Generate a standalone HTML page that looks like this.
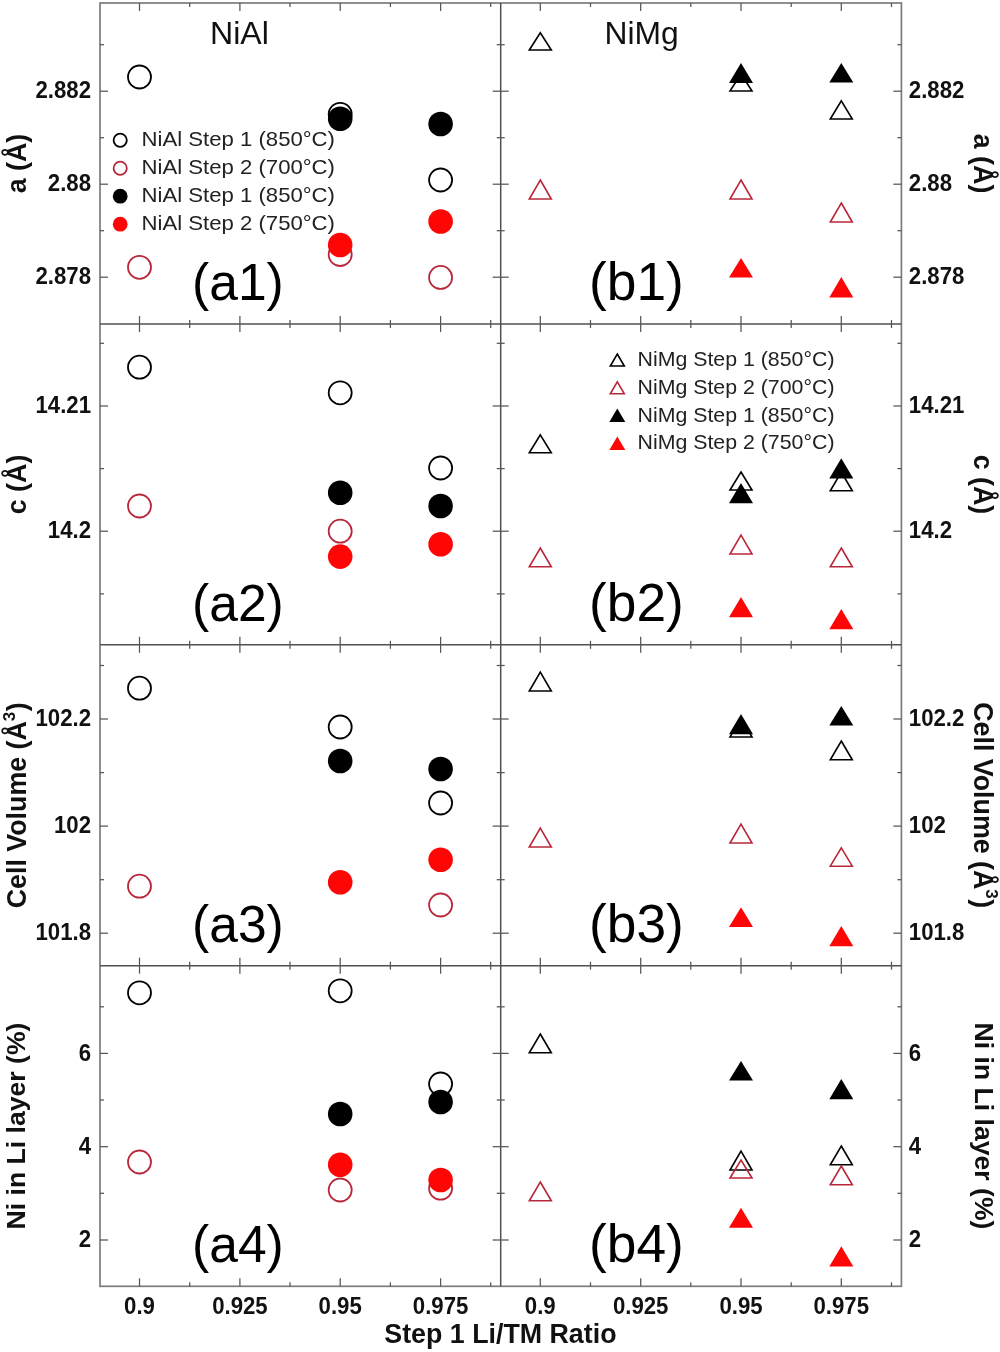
<!DOCTYPE html>
<html lang="en"><head><meta charset="utf-8"><title>Figure</title>
<style>
html,body{margin:0;padding:0;background:#fff;}
body{width:1000px;height:1352px;overflow:hidden;}
svg{display:block;filter:blur(0.45px);}
</style></head><body>
<svg width="1000" height="1352" viewBox="0 0 1000 1352">
<rect width="1000" height="1352" fill="#fff"/>
<rect x="100" y="3" width="801.4" height="1283.3" fill="none" stroke="#7c7c7c" stroke-width="1.7"/>
<g stroke="#505050" stroke-width="1.5" fill="none">
<line x1="500.7" y1="3" x2="500.7" y2="1286.3"/>
<line x1="100" y1="324.1" x2="901.4" y2="324.1"/>
<line x1="100" y1="644.8" x2="901.4" y2="644.8"/>
<line x1="100" y1="965.7" x2="901.4" y2="965.7"/>
</g>
<g stroke="#555" stroke-width="1.25">
<line x1="139.5" y1="3" x2="139.5" y2="11"/>
<line x1="239.9" y1="3" x2="239.9" y2="11"/>
<line x1="340.2" y1="3" x2="340.2" y2="11"/>
<line x1="440.6" y1="3" x2="440.6" y2="11"/>
<line x1="540.3" y1="3" x2="540.3" y2="11"/>
<line x1="640.7" y1="3" x2="640.7" y2="11"/>
<line x1="741" y1="3" x2="741" y2="11"/>
<line x1="841.3" y1="3" x2="841.3" y2="11"/>
<line x1="189.7" y1="3" x2="189.7" y2="7"/>
<line x1="290" y1="3" x2="290" y2="7"/>
<line x1="390.4" y1="3" x2="390.4" y2="7"/>
<line x1="490.7" y1="3" x2="490.7" y2="7"/>
<line x1="590.5" y1="3" x2="590.5" y2="7"/>
<line x1="690.8" y1="3" x2="690.8" y2="7"/>
<line x1="791.2" y1="3" x2="791.2" y2="7"/>
<line x1="891.5" y1="3" x2="891.5" y2="7"/>
<line x1="139.5" y1="316.1" x2="139.5" y2="332.1"/>
<line x1="239.9" y1="316.1" x2="239.9" y2="332.1"/>
<line x1="340.2" y1="316.1" x2="340.2" y2="332.1"/>
<line x1="440.6" y1="316.1" x2="440.6" y2="332.1"/>
<line x1="540.3" y1="316.1" x2="540.3" y2="332.1"/>
<line x1="640.7" y1="316.1" x2="640.7" y2="332.1"/>
<line x1="741" y1="316.1" x2="741" y2="332.1"/>
<line x1="841.3" y1="316.1" x2="841.3" y2="332.1"/>
<line x1="189.7" y1="320.1" x2="189.7" y2="328.1"/>
<line x1="290" y1="320.1" x2="290" y2="328.1"/>
<line x1="390.4" y1="320.1" x2="390.4" y2="328.1"/>
<line x1="490.7" y1="320.1" x2="490.7" y2="328.1"/>
<line x1="590.5" y1="320.1" x2="590.5" y2="328.1"/>
<line x1="690.8" y1="320.1" x2="690.8" y2="328.1"/>
<line x1="791.2" y1="320.1" x2="791.2" y2="328.1"/>
<line x1="891.5" y1="320.1" x2="891.5" y2="328.1"/>
<line x1="139.5" y1="636.8" x2="139.5" y2="652.8"/>
<line x1="239.9" y1="636.8" x2="239.9" y2="652.8"/>
<line x1="340.2" y1="636.8" x2="340.2" y2="652.8"/>
<line x1="440.6" y1="636.8" x2="440.6" y2="652.8"/>
<line x1="540.3" y1="636.8" x2="540.3" y2="652.8"/>
<line x1="640.7" y1="636.8" x2="640.7" y2="652.8"/>
<line x1="741" y1="636.8" x2="741" y2="652.8"/>
<line x1="841.3" y1="636.8" x2="841.3" y2="652.8"/>
<line x1="189.7" y1="640.8" x2="189.7" y2="648.8"/>
<line x1="290" y1="640.8" x2="290" y2="648.8"/>
<line x1="390.4" y1="640.8" x2="390.4" y2="648.8"/>
<line x1="490.7" y1="640.8" x2="490.7" y2="648.8"/>
<line x1="590.5" y1="640.8" x2="590.5" y2="648.8"/>
<line x1="690.8" y1="640.8" x2="690.8" y2="648.8"/>
<line x1="791.2" y1="640.8" x2="791.2" y2="648.8"/>
<line x1="891.5" y1="640.8" x2="891.5" y2="648.8"/>
<line x1="139.5" y1="957.7" x2="139.5" y2="973.7"/>
<line x1="239.9" y1="957.7" x2="239.9" y2="973.7"/>
<line x1="340.2" y1="957.7" x2="340.2" y2="973.7"/>
<line x1="440.6" y1="957.7" x2="440.6" y2="973.7"/>
<line x1="540.3" y1="957.7" x2="540.3" y2="973.7"/>
<line x1="640.7" y1="957.7" x2="640.7" y2="973.7"/>
<line x1="741" y1="957.7" x2="741" y2="973.7"/>
<line x1="841.3" y1="957.7" x2="841.3" y2="973.7"/>
<line x1="189.7" y1="961.7" x2="189.7" y2="969.7"/>
<line x1="290" y1="961.7" x2="290" y2="969.7"/>
<line x1="390.4" y1="961.7" x2="390.4" y2="969.7"/>
<line x1="490.7" y1="961.7" x2="490.7" y2="969.7"/>
<line x1="590.5" y1="961.7" x2="590.5" y2="969.7"/>
<line x1="690.8" y1="961.7" x2="690.8" y2="969.7"/>
<line x1="791.2" y1="961.7" x2="791.2" y2="969.7"/>
<line x1="891.5" y1="961.7" x2="891.5" y2="969.7"/>
<line x1="139.5" y1="1278.3" x2="139.5" y2="1286.3"/>
<line x1="239.9" y1="1278.3" x2="239.9" y2="1286.3"/>
<line x1="340.2" y1="1278.3" x2="340.2" y2="1286.3"/>
<line x1="440.6" y1="1278.3" x2="440.6" y2="1286.3"/>
<line x1="540.3" y1="1278.3" x2="540.3" y2="1286.3"/>
<line x1="640.7" y1="1278.3" x2="640.7" y2="1286.3"/>
<line x1="741" y1="1278.3" x2="741" y2="1286.3"/>
<line x1="841.3" y1="1278.3" x2="841.3" y2="1286.3"/>
<line x1="189.7" y1="1282.3" x2="189.7" y2="1286.3"/>
<line x1="290" y1="1282.3" x2="290" y2="1286.3"/>
<line x1="390.4" y1="1282.3" x2="390.4" y2="1286.3"/>
<line x1="490.7" y1="1282.3" x2="490.7" y2="1286.3"/>
<line x1="590.5" y1="1282.3" x2="590.5" y2="1286.3"/>
<line x1="690.8" y1="1282.3" x2="690.8" y2="1286.3"/>
<line x1="791.2" y1="1282.3" x2="791.2" y2="1286.3"/>
<line x1="891.5" y1="1282.3" x2="891.5" y2="1286.3"/>
<line x1="100" y1="91.2" x2="108" y2="91.2"/>
<line x1="492.7" y1="91.2" x2="508.7" y2="91.2"/>
<line x1="893.4" y1="91.2" x2="901.4" y2="91.2"/>
<line x1="100" y1="184.2" x2="108" y2="184.2"/>
<line x1="492.7" y1="184.2" x2="508.7" y2="184.2"/>
<line x1="893.4" y1="184.2" x2="901.4" y2="184.2"/>
<line x1="100" y1="277.2" x2="108" y2="277.2"/>
<line x1="492.7" y1="277.2" x2="508.7" y2="277.2"/>
<line x1="893.4" y1="277.2" x2="901.4" y2="277.2"/>
<line x1="100" y1="44.7" x2="104" y2="44.7"/>
<line x1="496.7" y1="44.7" x2="504.7" y2="44.7"/>
<line x1="897.4" y1="44.7" x2="901.4" y2="44.7"/>
<line x1="100" y1="137.7" x2="104" y2="137.7"/>
<line x1="496.7" y1="137.7" x2="504.7" y2="137.7"/>
<line x1="897.4" y1="137.7" x2="901.4" y2="137.7"/>
<line x1="100" y1="230.7" x2="104" y2="230.7"/>
<line x1="496.7" y1="230.7" x2="504.7" y2="230.7"/>
<line x1="897.4" y1="230.7" x2="901.4" y2="230.7"/>
<line x1="100" y1="406" x2="108" y2="406"/>
<line x1="492.7" y1="406" x2="508.7" y2="406"/>
<line x1="893.4" y1="406" x2="901.4" y2="406"/>
<line x1="100" y1="531.2" x2="108" y2="531.2"/>
<line x1="492.7" y1="531.2" x2="508.7" y2="531.2"/>
<line x1="893.4" y1="531.2" x2="901.4" y2="531.2"/>
<line x1="100" y1="343.3" x2="104" y2="343.3"/>
<line x1="496.7" y1="343.3" x2="504.7" y2="343.3"/>
<line x1="897.4" y1="343.3" x2="901.4" y2="343.3"/>
<line x1="100" y1="468.6" x2="104" y2="468.6"/>
<line x1="496.7" y1="468.6" x2="504.7" y2="468.6"/>
<line x1="897.4" y1="468.6" x2="901.4" y2="468.6"/>
<line x1="100" y1="593.9" x2="104" y2="593.9"/>
<line x1="496.7" y1="593.9" x2="504.7" y2="593.9"/>
<line x1="897.4" y1="593.9" x2="901.4" y2="593.9"/>
<line x1="100" y1="719" x2="108" y2="719"/>
<line x1="492.7" y1="719" x2="508.7" y2="719"/>
<line x1="893.4" y1="719" x2="901.4" y2="719"/>
<line x1="100" y1="826.1" x2="108" y2="826.1"/>
<line x1="492.7" y1="826.1" x2="508.7" y2="826.1"/>
<line x1="893.4" y1="826.1" x2="901.4" y2="826.1"/>
<line x1="100" y1="933.2" x2="108" y2="933.2"/>
<line x1="492.7" y1="933.2" x2="508.7" y2="933.2"/>
<line x1="893.4" y1="933.2" x2="901.4" y2="933.2"/>
<line x1="100" y1="665.5" x2="104" y2="665.5"/>
<line x1="496.7" y1="665.5" x2="504.7" y2="665.5"/>
<line x1="897.4" y1="665.5" x2="901.4" y2="665.5"/>
<line x1="100" y1="772.6" x2="104" y2="772.6"/>
<line x1="496.7" y1="772.6" x2="504.7" y2="772.6"/>
<line x1="897.4" y1="772.6" x2="901.4" y2="772.6"/>
<line x1="100" y1="879.7" x2="104" y2="879.7"/>
<line x1="496.7" y1="879.7" x2="504.7" y2="879.7"/>
<line x1="897.4" y1="879.7" x2="901.4" y2="879.7"/>
<line x1="100" y1="1053.4" x2="108" y2="1053.4"/>
<line x1="492.7" y1="1053.4" x2="508.7" y2="1053.4"/>
<line x1="893.4" y1="1053.4" x2="901.4" y2="1053.4"/>
<line x1="100" y1="1146.7" x2="108" y2="1146.7"/>
<line x1="492.7" y1="1146.7" x2="508.7" y2="1146.7"/>
<line x1="893.4" y1="1146.7" x2="901.4" y2="1146.7"/>
<line x1="100" y1="1240" x2="108" y2="1240"/>
<line x1="492.7" y1="1240" x2="508.7" y2="1240"/>
<line x1="893.4" y1="1240" x2="901.4" y2="1240"/>
<line x1="100" y1="1006.8" x2="104" y2="1006.8"/>
<line x1="496.7" y1="1006.8" x2="504.7" y2="1006.8"/>
<line x1="897.4" y1="1006.8" x2="901.4" y2="1006.8"/>
<line x1="100" y1="1100" x2="104" y2="1100"/>
<line x1="496.7" y1="1100" x2="504.7" y2="1100"/>
<line x1="897.4" y1="1100" x2="901.4" y2="1100"/>
<line x1="100" y1="1193.3" x2="104" y2="1193.3"/>
<line x1="496.7" y1="1193.3" x2="504.7" y2="1193.3"/>
<line x1="897.4" y1="1193.3" x2="901.4" y2="1193.3"/>
</g>
<g font-family="'Liberation Sans', Arial, sans-serif" font-weight="bold" font-size="24" fill="#111">
<text x="35.46" y="98.4" textLength="55.54" lengthAdjust="spacingAndGlyphs">2.882</text>
<text x="908.8" y="98.4" textLength="55.54" lengthAdjust="spacingAndGlyphs">2.882</text>
<text x="47.8" y="191.39999999999998" textLength="43.2" lengthAdjust="spacingAndGlyphs">2.88</text>
<text x="908.8" y="191.39999999999998" textLength="43.2" lengthAdjust="spacingAndGlyphs">2.88</text>
<text x="35.46" y="284.4" textLength="55.54" lengthAdjust="spacingAndGlyphs">2.878</text>
<text x="908.8" y="284.4" textLength="55.54" lengthAdjust="spacingAndGlyphs">2.878</text>
<text x="35.46" y="413.2" textLength="55.54" lengthAdjust="spacingAndGlyphs">14.21</text>
<text x="908.8" y="413.2" textLength="55.54" lengthAdjust="spacingAndGlyphs">14.21</text>
<text x="47.8" y="538.4000000000001" textLength="43.2" lengthAdjust="spacingAndGlyphs">14.2</text>
<text x="908.8" y="538.4000000000001" textLength="43.2" lengthAdjust="spacingAndGlyphs">14.2</text>
<text x="35.46" y="726.2" textLength="55.54" lengthAdjust="spacingAndGlyphs">102.2</text>
<text x="908.8" y="726.2" textLength="55.54" lengthAdjust="spacingAndGlyphs">102.2</text>
<text x="53.97" y="833.3000000000001" textLength="37.03" lengthAdjust="spacingAndGlyphs">102</text>
<text x="908.8" y="833.3000000000001" textLength="37.03" lengthAdjust="spacingAndGlyphs">102</text>
<text x="35.46" y="940.4000000000001" textLength="55.54" lengthAdjust="spacingAndGlyphs">101.8</text>
<text x="908.8" y="940.4000000000001" textLength="55.54" lengthAdjust="spacingAndGlyphs">101.8</text>
<text x="78.66" y="1060.6000000000001" textLength="12.34" lengthAdjust="spacingAndGlyphs">6</text>
<text x="908.8" y="1060.6000000000001" textLength="12.34" lengthAdjust="spacingAndGlyphs">6</text>
<text x="78.66" y="1153.9" textLength="12.34" lengthAdjust="spacingAndGlyphs">4</text>
<text x="908.8" y="1153.9" textLength="12.34" lengthAdjust="spacingAndGlyphs">4</text>
<text x="78.66" y="1247.2" textLength="12.34" lengthAdjust="spacingAndGlyphs">2</text>
<text x="908.8" y="1247.2" textLength="12.34" lengthAdjust="spacingAndGlyphs">2</text>
<text x="124.07" y="1314.3" textLength="30.86" lengthAdjust="spacingAndGlyphs">0.9</text>
<text x="212.13" y="1314.3" textLength="55.54" lengthAdjust="spacingAndGlyphs">0.925</text>
<text x="318.59999999999997" y="1314.3" textLength="43.2" lengthAdjust="spacingAndGlyphs">0.95</text>
<text x="412.83000000000004" y="1314.3" textLength="55.54" lengthAdjust="spacingAndGlyphs">0.975</text>
<text x="524.87" y="1314.3" textLength="30.86" lengthAdjust="spacingAndGlyphs">0.9</text>
<text x="612.9300000000001" y="1314.3" textLength="55.54" lengthAdjust="spacingAndGlyphs">0.925</text>
<text x="719.4" y="1314.3" textLength="43.2" lengthAdjust="spacingAndGlyphs">0.95</text>
<text x="813.53" y="1314.3" textLength="55.54" lengthAdjust="spacingAndGlyphs">0.975</text>
</g>
<g font-family="'Liberation Sans', Arial, sans-serif" font-weight="bold" font-size="26.8" fill="#111" text-anchor="middle">
<text font-size="26.8" transform="translate(25.7,163.55) rotate(-90)">a (Å)</text>
<text font-size="26.8" transform="translate(974.2,163.55) rotate(90)">a (Å)</text>
<text font-size="26.8" transform="translate(25.7,484.45) rotate(-90)">c (Å)</text>
<text font-size="26.8" transform="translate(974.2,484.45) rotate(90)">c (Å)</text>
<text font-size="26.8" transform="translate(26.0,805.25) rotate(-90)">Cell Volume (Å<tspan dy="-11.5" font-size="17">3</tspan><tspan dy="11.5" dx="0.5">)</tspan></text>
<text font-size="26.8" transform="translate(974.2,805.25) rotate(90)">Cell Volume (Å<tspan dy="-11.5" font-size="17">3</tspan><tspan dy="11.5" dx="0.5">)</tspan></text>
<text font-size="26.6" transform="translate(24.8,1126.0) rotate(-90)">Ni in Li layer (%)</text>
<text font-size="26.6" transform="translate(974.8,1126.0) rotate(90)">Ni in Li layer (%)</text>
<text x="500.4" y="1342.7" font-size="26.8">Step 1 Li/TM Ratio</text>
</g>
<g font-family="'Liberation Sans', Arial, sans-serif" font-size="31.2" fill="#111">
<text x="210" y="43.7" textLength="58.9" lengthAdjust="spacingAndGlyphs">NiAl</text>
<text x="604.5" y="43.7" textLength="74.2" lengthAdjust="spacingAndGlyphs">NiMg</text>
</g>
<g font-family="'Liberation Sans', Arial, sans-serif" fill="#000">
<text x="192" y="300.1" font-size="51.6">(a1)</text>
<text x="589" y="300.1" font-size="53.3">(b1)</text>
<text x="192" y="620.8" font-size="51.6">(a2)</text>
<text x="589" y="620.8" font-size="53.3">(b2)</text>
<text x="192" y="941.7" font-size="51.6">(a3)</text>
<text x="589" y="941.7" font-size="53.3">(b3)</text>
<text x="192" y="1262.3" font-size="51.6">(a4)</text>
<text x="589" y="1262.3" font-size="53.3">(b4)</text>
</g>
<circle cx="139.5" cy="77" r="11.5" fill="none" stroke="#000" stroke-width="1.8"/>
<circle cx="340.2" cy="114.3" r="11.5" fill="none" stroke="#000" stroke-width="1.8"/>
<circle cx="340.2" cy="118.8" r="12.3" fill="#000"/>
<circle cx="440.6" cy="124" r="12.3" fill="#000"/>
<circle cx="440.6" cy="180" r="11.5" fill="none" stroke="#000" stroke-width="1.8"/>
<circle cx="440.6" cy="221.5" r="12.3" fill="#ff0606"/>
<circle cx="440.6" cy="277.4" r="11.5" fill="none" stroke="#b8283a" stroke-width="1.8"/>
<circle cx="340.2" cy="254.5" r="11.5" fill="none" stroke="#b8283a" stroke-width="1.8"/>
<circle cx="340.2" cy="245" r="12.3" fill="#ff0606"/>
<circle cx="139.5" cy="267.3" r="11.5" fill="none" stroke="#b8283a" stroke-width="1.8"/>
<circle cx="139.5" cy="367.2" r="11.5" fill="none" stroke="#000" stroke-width="1.8"/>
<circle cx="340.2" cy="392.8" r="11.5" fill="none" stroke="#000" stroke-width="1.8"/>
<circle cx="440.6" cy="468" r="11.5" fill="none" stroke="#000" stroke-width="1.8"/>
<circle cx="340.2" cy="492.8" r="12.3" fill="#000"/>
<circle cx="440.6" cy="506" r="12.3" fill="#000"/>
<circle cx="139.5" cy="506" r="11.5" fill="none" stroke="#b8283a" stroke-width="1.8"/>
<circle cx="340.2" cy="531.2" r="11.5" fill="none" stroke="#b8283a" stroke-width="1.8"/>
<circle cx="340.2" cy="556.6" r="12.3" fill="#ff0606"/>
<circle cx="440.6" cy="544.3" r="12.3" fill="#ff0606"/>
<circle cx="139.5" cy="688.2" r="11.5" fill="none" stroke="#000" stroke-width="1.8"/>
<circle cx="340.2" cy="727" r="11.5" fill="none" stroke="#000" stroke-width="1.8"/>
<circle cx="340.2" cy="761" r="12.3" fill="#000"/>
<circle cx="440.6" cy="769" r="12.3" fill="#000"/>
<circle cx="440.6" cy="803" r="11.5" fill="none" stroke="#000" stroke-width="1.8"/>
<circle cx="440.6" cy="859.8" r="12.3" fill="#ff0606"/>
<circle cx="340.2" cy="882.2" r="12.3" fill="#ff0606"/>
<circle cx="139.5" cy="886.2" r="11.5" fill="none" stroke="#b8283a" stroke-width="1.8"/>
<circle cx="440.6" cy="905" r="11.5" fill="none" stroke="#b8283a" stroke-width="1.8"/>
<circle cx="139.5" cy="992.8" r="11.5" fill="none" stroke="#000" stroke-width="1.8"/>
<circle cx="340.2" cy="990.8" r="11.5" fill="none" stroke="#000" stroke-width="1.8"/>
<circle cx="440.6" cy="1084" r="11.5" fill="none" stroke="#000" stroke-width="1.8"/>
<circle cx="440.6" cy="1102" r="12.3" fill="#000"/>
<circle cx="340.2" cy="1114" r="12.3" fill="#000"/>
<circle cx="139.5" cy="1162" r="11.5" fill="none" stroke="#b8283a" stroke-width="1.8"/>
<circle cx="340.2" cy="1190" r="11.5" fill="none" stroke="#b8283a" stroke-width="1.8"/>
<circle cx="340.2" cy="1164.8" r="12.3" fill="#ff0606"/>
<circle cx="440.6" cy="1188.2" r="11.5" fill="none" stroke="#b8283a" stroke-width="1.8"/>
<circle cx="440.6" cy="1180" r="12.3" fill="#ff0606"/>
<polygon points="540.3,32.8 551.3,50 529.3,50" fill="none" stroke="#000" stroke-width="1.6"/>
<polygon points="741,74 752,91 730,91" fill="none" stroke="#000" stroke-width="1.6"/>
<polygon points="741,63 753,82.9 729,82.9" fill="#000"/>
<polygon points="841.3,63 853.3,82.5 829.3,82.5" fill="#000"/>
<polygon points="841.3,100.8 852.3,119 830.3,119" fill="none" stroke="#000" stroke-width="1.6"/>
<polygon points="540.3,180 551.3,199 529.3,199" fill="none" stroke="#b8283a" stroke-width="1.6"/>
<polygon points="741,180 752,199 730,199" fill="none" stroke="#b8283a" stroke-width="1.6"/>
<polygon points="841.3,203 852.3,222 830.3,222" fill="none" stroke="#b8283a" stroke-width="1.6"/>
<polygon points="741,258 753,277.5 729,277.5" fill="#ff0606"/>
<polygon points="841.3,277 853.3,297.5 829.3,297.5" fill="#ff0606"/>
<polygon points="540.3,434.8 551.3,452.8 529.3,452.8" fill="none" stroke="#000" stroke-width="1.6"/>
<polygon points="741,472 752,490 730,490" fill="none" stroke="#000" stroke-width="1.6"/>
<polygon points="741,483 753,503.3 729,503.3" fill="#000"/>
<polygon points="841.3,472 852.3,490.8 830.3,490.8" fill="none" stroke="#000" stroke-width="1.6"/>
<polygon points="841.3,458.2 853.3,478.5 829.3,478.5" fill="#000"/>
<polygon points="540.3,548 551.3,566.8 529.3,566.8" fill="none" stroke="#b8283a" stroke-width="1.6"/>
<polygon points="741,535.2 752,554 730,554" fill="none" stroke="#b8283a" stroke-width="1.6"/>
<polygon points="841.3,548 852.3,566.8 830.3,566.8" fill="none" stroke="#b8283a" stroke-width="1.6"/>
<polygon points="741,597 753,617.3 729,617.3" fill="#ff0606"/>
<polygon points="841.3,609 853.3,629.3 829.3,629.3" fill="#ff0606"/>
<polygon points="540.3,672.2 551.3,691 529.3,691" fill="none" stroke="#000" stroke-width="1.6"/>
<polygon points="741,718.2 752,737 730,737" fill="none" stroke="#000" stroke-width="1.6"/>
<polygon points="741,714 753,734.3 729,734.3" fill="#000"/>
<polygon points="841.3,706 853.3,725.5 829.3,725.5" fill="#000"/>
<polygon points="841.3,741 852.3,759.8 830.3,759.8" fill="none" stroke="#000" stroke-width="1.6"/>
<polygon points="540.3,828.2 551.3,847 529.3,847" fill="none" stroke="#b8283a" stroke-width="1.6"/>
<polygon points="741,824.2 752,843 730,843" fill="none" stroke="#b8283a" stroke-width="1.6"/>
<polygon points="841.3,847.8 852.3,866.2 830.3,866.2" fill="none" stroke="#b8283a" stroke-width="1.6"/>
<polygon points="741,907.2 753,927.1 729,927.1" fill="#ff0606"/>
<polygon points="841.3,926 853.3,946.3 829.3,946.3" fill="#ff0606"/>
<polygon points="540.3,1034 551.3,1052.8 529.3,1052.8" fill="none" stroke="#000" stroke-width="1.6"/>
<polygon points="741,1061 753,1080.5 729,1080.5" fill="#000"/>
<polygon points="841.3,1079 853.3,1099.3 829.3,1099.3" fill="#000"/>
<polygon points="741,1151.2 752,1170 730,1170" fill="none" stroke="#000" stroke-width="1.6"/>
<polygon points="741,1160 752,1178 730,1178" fill="none" stroke="#b8283a" stroke-width="1.6"/>
<polygon points="841.3,1146 852.3,1164.8 830.3,1164.8" fill="none" stroke="#000" stroke-width="1.6"/>
<polygon points="841.3,1166 852.3,1184.8 830.3,1184.8" fill="none" stroke="#b8283a" stroke-width="1.6"/>
<polygon points="540.3,1182 551.3,1200.8 529.3,1200.8" fill="none" stroke="#b8283a" stroke-width="1.6"/>
<polygon points="741,1207.8 753,1227.7 729,1227.7" fill="#ff0606"/>
<polygon points="841.3,1246.2 853.3,1266.5 829.3,1266.5" fill="#ff0606"/>
<g font-family="'Liberation Sans', Arial, sans-serif" font-size="21" fill="#222">
<circle cx="120.2" cy="140.2" r="6.6" fill="none" stroke="#000" stroke-width="1.8"/>
<text x="141.5" y="146" textLength="193.5" lengthAdjust="spacingAndGlyphs">NiAl Step 1 (850°C)</text>
<circle cx="120.2" cy="168.2" r="6.6" fill="none" stroke="#b8283a" stroke-width="1.8"/>
<text x="141.5" y="174" textLength="193.5" lengthAdjust="spacingAndGlyphs">NiAl Step 2 (700°C)</text>
<circle cx="120.2" cy="196.2" r="7.3999999999999995" fill="#000"/>
<text x="141.5" y="202" textLength="193.5" lengthAdjust="spacingAndGlyphs">NiAl Step 1 (850°C)</text>
<circle cx="120.2" cy="224.2" r="7.3999999999999995" fill="#ff0606"/>
<text x="141.5" y="230" textLength="193.5" lengthAdjust="spacingAndGlyphs">NiAl Step 2 (750°C)</text>
<polygon points="617.3,354.0 624.3,366.0 610.3,366.0" fill="none" stroke="#000" stroke-width="1.6"/>
<text x="637.5" y="366.0" textLength="197" lengthAdjust="spacingAndGlyphs">NiMg Step 1 (850°C)</text>
<polygon points="617.3,381.8 624.3,393.8 610.3,393.8" fill="none" stroke="#b8283a" stroke-width="1.6"/>
<text x="637.5" y="393.8" textLength="197" lengthAdjust="spacingAndGlyphs">NiMg Step 2 (700°C)</text>
<polygon points="617.3,408.6 625.3,422.1 609.3,422.1" fill="#000"/>
<text x="637.5" y="421.6" textLength="197" lengthAdjust="spacingAndGlyphs">NiMg Step 1 (850°C)</text>
<polygon points="617.3,436.4 625.3,449.9 609.3,449.9" fill="#ff0606"/>
<text x="637.5" y="449.4" textLength="197" lengthAdjust="spacingAndGlyphs">NiMg Step 2 (750°C)</text>
</g>
</svg>
</body></html>
